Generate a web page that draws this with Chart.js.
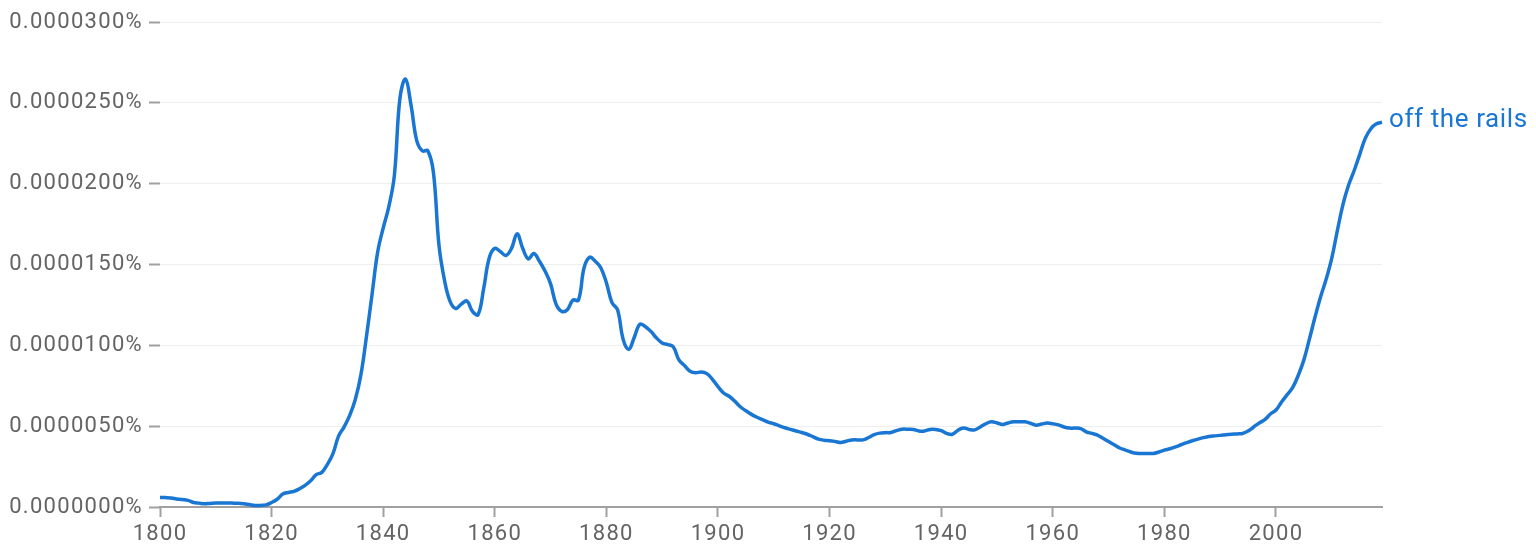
<!DOCTYPE html>
<html>
<head>
<meta charset="utf-8">
<script src="https://cdn.jsdelivr.net/npm/chart.js@4/dist/chart.umd.min.js"></script>
<style>
	html, body { margin: 0; padding: 0; background: #fff; }
	canvas { display: block; }
</style>
</head>
<body>
<canvas id="ngramChart" width="1536" height="549"></canvas>
<script>
// one value per year, 1800..2019, in units of 0.0000001 %
const firstYear = 1800
const seriesName = "off the rails"
const frequency = [
	5.8, 5.8, 5.6, 5.0, 4.6, 4.1, 2.8, 2.4, 2.0, 2.2,
	2.4, 2.4, 2.4, 2.4, 2.3, 2.0, 1.5, 1.0, 1.0, 1.3,
	2.8, 4.8, 8.0, 9.0, 9.7, 11.3, 13.4, 16.2, 20, 21.4,
	26.4, 33, 43.8, 49.6, 56.7, 66.5, 81.7, 105.5, 131.5, 157.5,
	172.6, 185.6, 205, 252.8, 264.7, 248.4, 226.8, 220.3, 220.3, 207,
	161.8, 140, 127, 122.8, 125.5, 127.4, 121, 119, 135, 154,
	160, 158, 155.6, 160, 169, 160, 153.5, 156.8, 152, 146,
	138, 125.3, 121, 122, 128, 128, 148, 154.5, 152, 148,
	138.7, 126.4, 122, 103.7, 97.5, 105, 113, 111.5, 108.5, 104.5,
	101.5, 100.5, 99, 91, 87.5, 84, 83, 83.5, 82.5, 79,
	74.5, 70.5, 68.5, 65.5, 62, 59.5, 57.3, 55.5, 54, 52.5,
	51.5, 50.2, 49, 48, 47, 46.1, 45, 43.5, 42, 41.3,
	41, 40.5, 39.9, 40.7, 41.5, 41.5, 41.5, 43, 44.8, 45.7,
	46, 46.1, 47.2, 48.1, 48.1, 48, 47, 47, 48, 48,
	47.2, 45.5, 45, 47.5, 48.8, 48, 47.7, 49.5, 51.5, 52.7,
	52, 51, 52, 52.7, 52.7, 52.7, 51.8, 50.6, 51.3, 51.9,
	51.5, 50.8, 49.5, 48.8, 48.8, 48.5, 46.5, 45.5, 44.5, 42.5,
	40.5, 38.5, 36.5, 35.2, 34, 33.2, 33.1, 33.1, 33.1, 34,
	35.2, 36, 37.2, 38.5, 39.8, 41, 42, 42.9, 43.6, 44,
	44.3, 44.7, 45, 45.2, 45.5, 47, 49.5, 52, 54, 57.5,
	60, 65, 69.5, 74, 81.5, 91, 104, 117.5, 130, 141,
	154, 171, 187, 199, 208, 218, 228, 234, 237, 238
]
const xTicks = [1800, 1820, 1840, 1860, 1880, 1900, 1920, 1940, 1960, 1980, 2000]
const yTicks = [0, 50, 100, 150, 200, 250, 300]

const lineColor = "#1976d2"
const axisGray = "#a0a0a0"
const labelGray = "#646464"

const points = frequency.map((v, i) => ({ x: firstYear + i, y: v }))

// ticks in the picture are spaced wider than plain Roboto
const spacing = {
	id: "spacing",
	beforeLayout(chart) { chart.ctx.letterSpacing = "1.3px" },
	beforeDraw(chart) { chart.ctx.letterSpacing = "1.3px" }
}

// series name written at the end of the line
const endLabel = {
	id: "endLabel",
	afterDatasetsDraw(chart) {
		const meta = chart.getDatasetMeta(0)
		const last = meta.data[meta.data.length - 1]
		const ctx = chart.ctx
		ctx.save()
		ctx.letterSpacing = "0.6px"
		ctx.font = "26px Roboto"
		ctx.fillStyle = lineColor
		ctx.textAlign = "left"
		ctx.textBaseline = "middle"
		ctx.fillText(seriesName, last.x + 7, last.y - 2)
		ctx.restore()
	}
}

new Chart(document.getElementById("ngramChart"), {
	type: "line",
	data: {
		datasets: [{
			label: seriesName,
			data: points,
			borderColor: lineColor,
			borderWidth: 3.5,
			pointRadius: 0,
			tension: 0.4,
			fill: false,
			clip: false
		}]
	},
	options: {
		responsive: false,
		animation: false,
		devicePixelRatio: 1,
		layout: { padding: { top: 22, right: 154, left: 0, bottom: 0 } },
		plugins: {
			legend: { display: false },
			tooltip: { enabled: false }
		},
		scales: {
			x: {
				type: "linear",
				min: 1800,
				max: 2019,
				afterBuildTicks: scale => { scale.ticks = xTicks.map(v => ({ value: v })) },
				afterFit: scale => { scale.height = 42 },
				grid: {
					drawOnChartArea: false,
					drawTicks: true,
					tickLength: 10,
					tickWidth: 2,
					tickColor: axisGray
				},
				border: { display: true, color: axisGray, width: 2 },
				ticks: {
					padding: 4,
					color: labelGray,
					font: { family: "Roboto", size: 22 },
					maxRotation: 0,
					callback: v => String(v)
				}
			},
			y: {
				min: 0,
				max: 300,
				afterBuildTicks: scale => { scale.ticks = yTicks.map(v => ({ value: v })) },
				afterFit: scale => { scale.width = 160 },
				grid: {
					color: "#eeeeee",
					lineWidth: 1,
					drawTicks: true,
					tickLength: 11,
					tickWidth: 2,
					tickColor: axisGray
				},
				border: { display: false },
				ticks: {
					padding: 6,
					color: labelGray,
					font: { family: "Roboto", size: 22 },
					callback: v => (v / 1e7).toFixed(7) + "%"
				}
			}
		}
	},
	plugins: [spacing, endLabel]
})
</script>
</body>
</html>
